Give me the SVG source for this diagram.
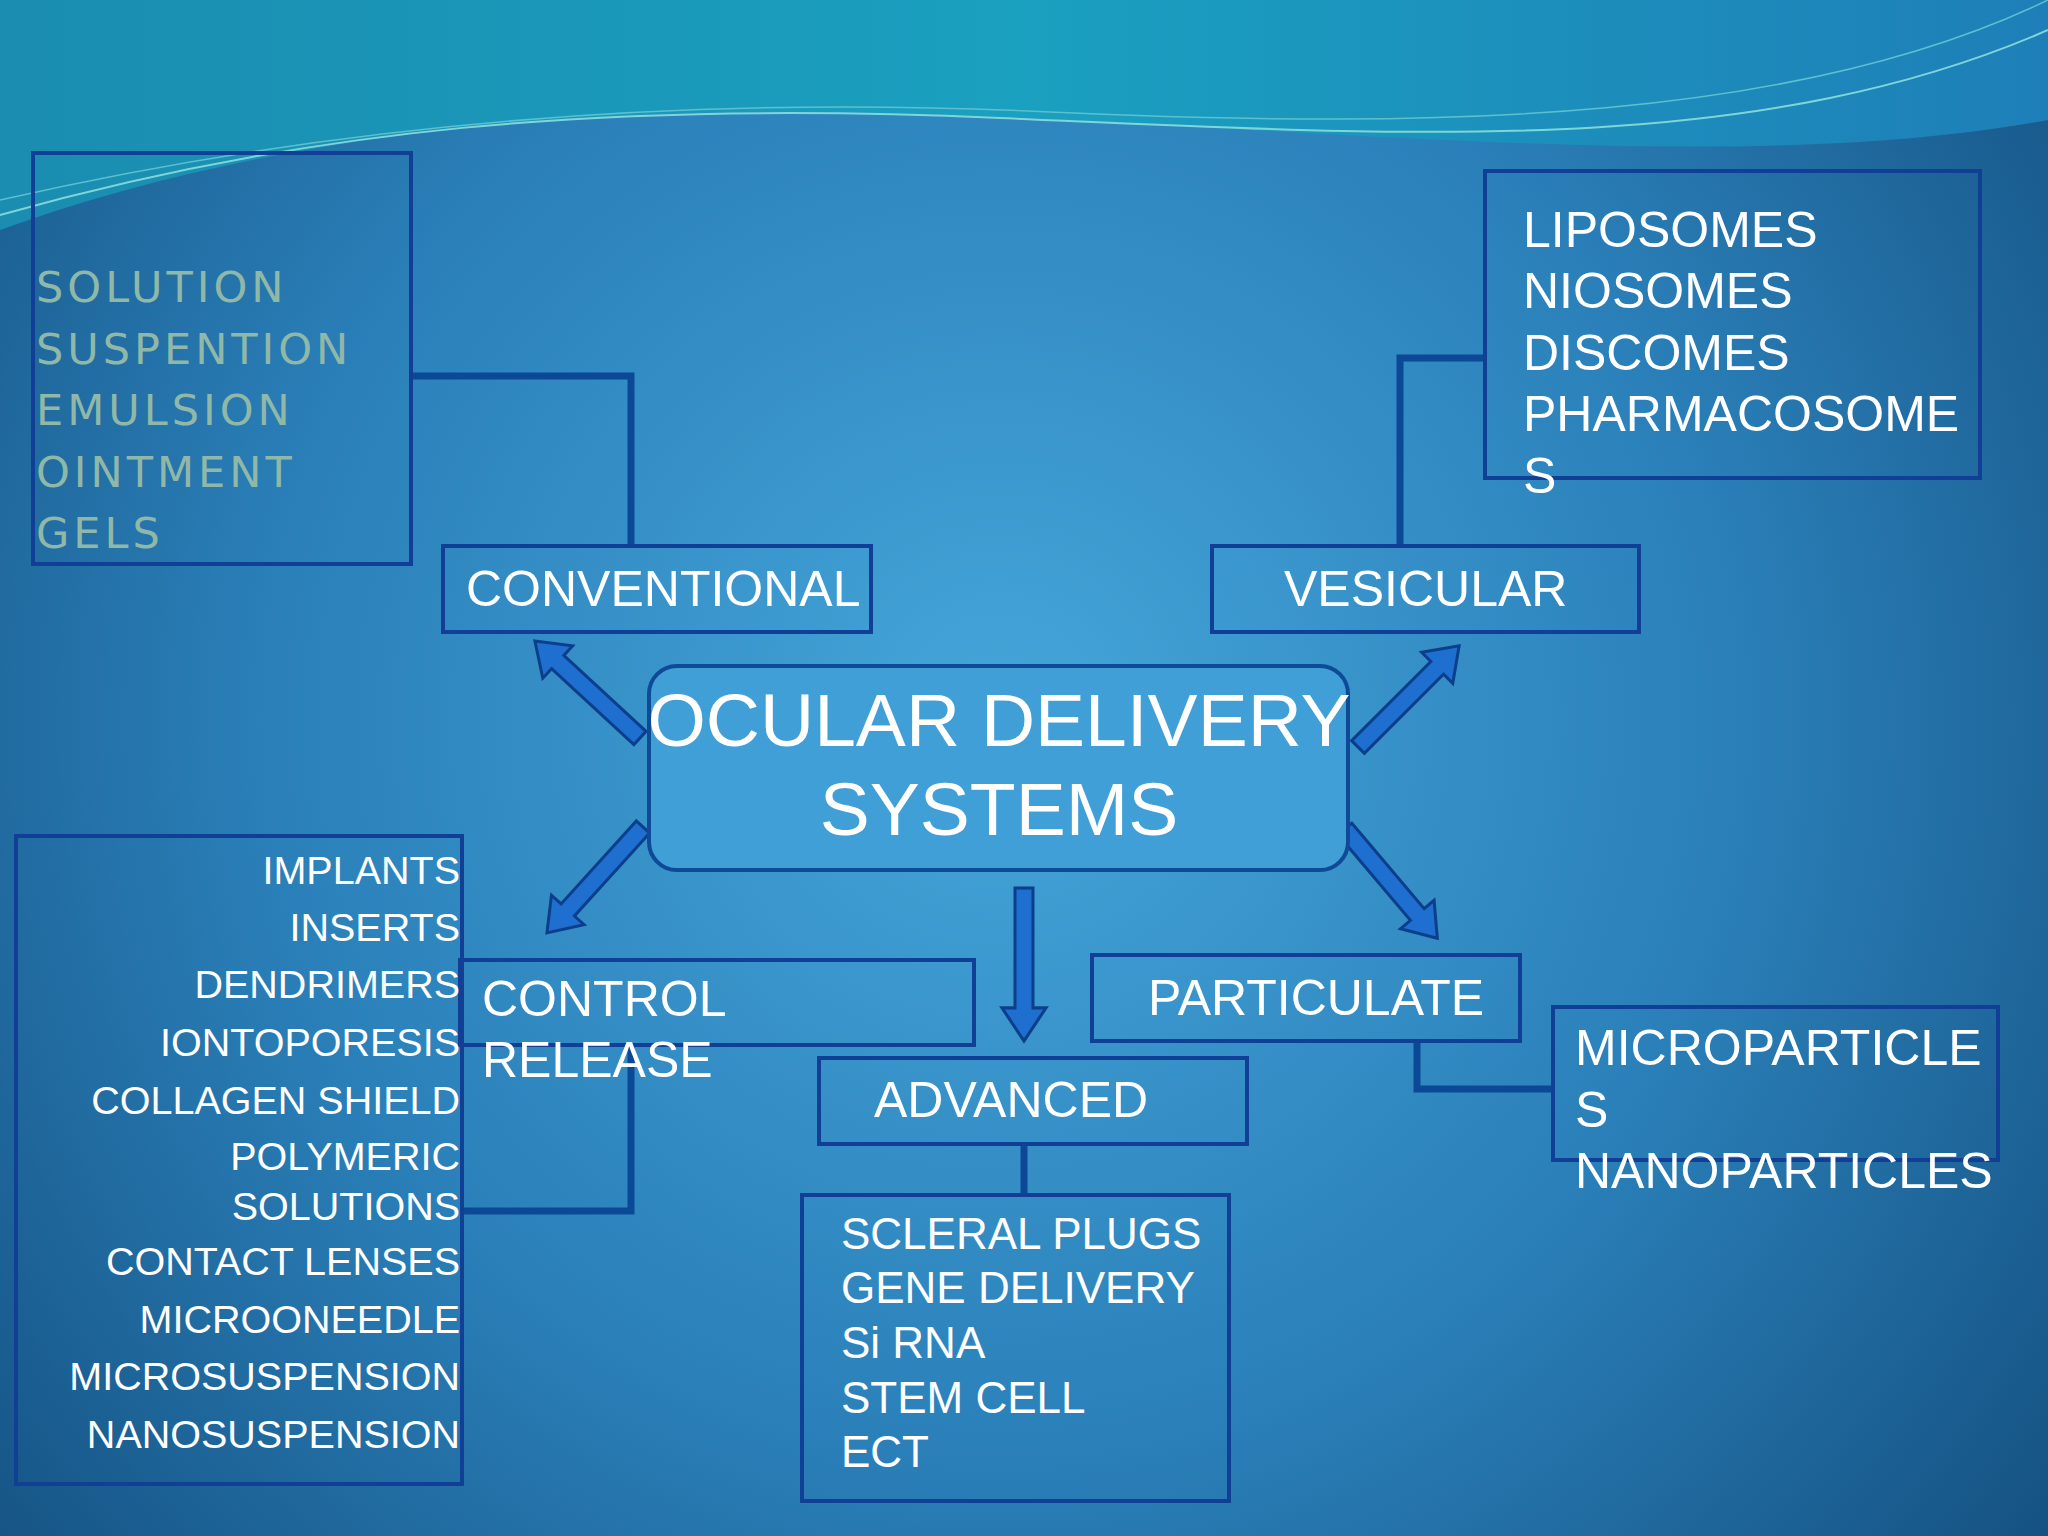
<svg xmlns="http://www.w3.org/2000/svg" width="2048" height="1536" viewBox="0 0 2048 1536">
<defs>
<radialGradient id="bg" cx="1000" cy="720" r="1350" gradientUnits="userSpaceOnUse">
<stop offset="0" stop-color="#45a6da"/><stop offset="0.55" stop-color="#2a7fb8"/><stop offset="1" stop-color="#145080"/>
</radialGradient>
<linearGradient id="wave" x1="0" y1="0" x2="1" y2="0">
<stop offset="0" stop-color="#1a8db0"/><stop offset="0.5" stop-color="#1aa0c0"/><stop offset="1" stop-color="#1e7fb8"/>
</linearGradient>
<polygon id="arr" points="0,-9 112,-9 112,-22 143,0 112,22 112,9 0,9"/>
<style>
.box{fill:none;stroke:#123f96;stroke-width:4}
.t{font-family:"Liberation Sans",Arial,sans-serif;fill:#fff}
.g{font-family:"DejaVu Sans",sans-serif;fill:#8fb8a8;font-size:43px;letter-spacing:4px}
.c{fill:none;stroke:#0b4896;stroke-width:7}
.a{fill:#1f6fd0;stroke:#0b3f8c;stroke-width:3}
</style>
</defs>
<rect width="2048" height="1536" fill="url(#bg)"/>
<path d="M0,0 H2048 V120 C1750,175 1350,130 950,115 C550,100 250,140 0,230 Z" fill="url(#wave)"/>
<path d="M0,215 C300,130 600,100 1000,118 C1400,135 1750,160 2048,30" fill="none" stroke="#7fd6d8" stroke-width="2"/>
<path d="M0,200 C350,120 700,95 1050,112 C1450,130 1800,120 2048,0" fill="none" stroke="#5cc0d0" stroke-width="1.5"/>

<g id="connectors">
<polyline class="c" points="411,376 631,376 631,546"/>
<polyline class="c" points="1400,546 1400,358 1485,358"/>
<polyline class="c" points="631,1045 631,1211 462,1211"/>
<line class="c" x1="1024" y1="1144" x2="1024" y2="1195"/>
<polyline class="c" points="1417,1041 1417,1089 1553,1089"/>
<use href="#arr" class="a" transform="translate(640,738) rotate(-137.3)"/>
<use href="#arr" class="a" transform="translate(1358,747) rotate(-45)"/>
<use href="#arr" class="a" transform="translate(643,827) rotate(132.2)"/>
<use href="#arr" class="a" transform="translate(1345,829) rotate(49.8)"/>
<use href="#arr" class="a" transform="translate(1024,888) rotate(90) scale(1.07,1)"/>
</g>

<g id="conventional-list">
<rect class="box" x="33" y="153" width="378" height="411"/>
<text class="g" x="36" y="302">SOLUTION</text>
<text class="g" x="36" y="364">SUSPENTION</text>
<text class="g" x="36" y="425">EMULSION</text>
<text class="g" x="36" y="487">OINTMENT</text>
<text class="g" x="36" y="548">GELS</text>
</g>
<g id="conventional">
<rect class="box" x="443" y="546" width="428" height="86"/>
<text class="t" x="466" y="606" font-size="50">CONVENTIONAL</text>
</g>
<g id="vesicular">
<rect class="box" x="1212" y="546" width="427" height="86"/>
<text class="t" x="1284" y="606" font-size="50">VESICULAR</text>
</g>
<g id="vesicular-list">
<rect class="box" x="1485" y="171" width="495" height="307"/>
<g class="t" font-size="50">
<text x="1523" y="247">LIPOSOMES</text>
<text x="1523" y="308">NIOSOMES</text>
<text x="1523" y="370">DISCOMES</text>
<text x="1523" y="431">PHARMACOSOME</text>
<text x="1523" y="493">S</text>
</g>
</g>
<g id="center">
<rect x="649" y="666" width="699" height="204" rx="28" fill="#3f9fd6" stroke="#0f4a96" stroke-width="4"/>
<text class="t" x="999" y="746" font-size="75" text-anchor="middle">OCULAR DELIVERY</text>
<text class="t" x="999" y="835" font-size="75" text-anchor="middle">SYSTEMS</text>
</g>
<g id="control-release">
<rect class="box" x="460" y="960" width="514" height="85"/>
<text class="t" x="482" y="1016" font-size="50">CONTROL</text>
<text class="t" x="482" y="1077" font-size="50">RELEASE</text>
</g>
<g id="particulate">
<rect class="box" x="1092" y="955" width="428" height="86"/>
<text class="t" x="1148" y="1015" font-size="50">PARTICULATE</text>
</g>
<g id="advanced">
<rect class="box" x="819" y="1058" width="428" height="86"/>
<text class="t" x="874" y="1117" font-size="50">ADVANCED</text>
</g>
<g id="control-list">
<rect class="box" x="16" y="836" width="446" height="648"/>
<g class="t" font-size="39.5" text-anchor="end">
<text x="460" y="884">IMPLANTS</text>
<text x="460" y="941">INSERTS</text>
<text x="460" y="998">DENDRIMERS</text>
<text x="460" y="1056">IONTOPORESIS</text>
<text x="460" y="1114">COLLAGEN SHIELD</text>
<text x="460" y="1170">POLYMERIC</text>
<text x="460" y="1220">SOLUTIONS</text>
<text x="460" y="1275">CONTACT LENSES</text>
<text x="460" y="1333">MICROONEEDLE</text>
<text x="460" y="1390">MICROSUSPENSION</text>
<text x="460" y="1448">NANOSUSPENSION</text>
</g>
</g>
<g id="advanced-list">
<rect class="box" x="802" y="1195" width="427" height="306"/>
<g class="t" font-size="44">
<text x="841" y="1249">SCLERAL PLUGS</text>
<text x="841" y="1303">GENE DELIVERY</text>
<text x="841" y="1358">Si RNA</text>
<text x="841" y="1413">STEM CELL</text>
<text x="841" y="1467">ECT</text>
</g>
</g>
<g id="particulate-list">
<rect class="box" x="1553" y="1007" width="445" height="153"/>
<g class="t" font-size="50">
<text x="1575" y="1065">MICROPARTICLE</text>
<text x="1575" y="1127">S</text>
<text x="1575" y="1188">NANOPARTICLES</text>
</g>
</g>
</svg>
